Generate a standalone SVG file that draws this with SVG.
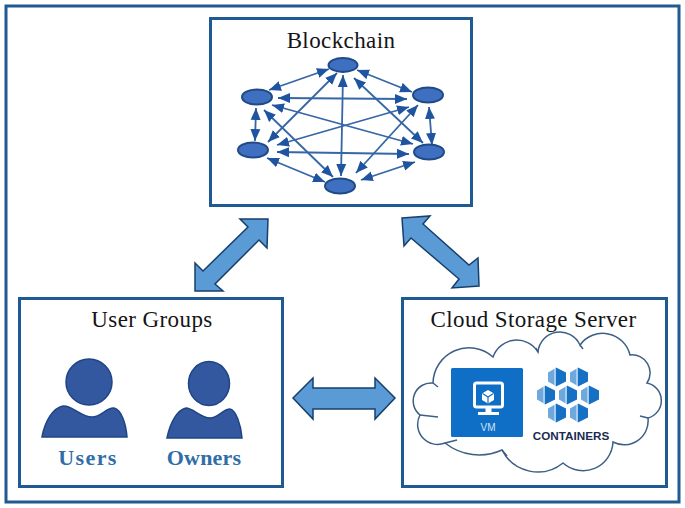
<svg xmlns="http://www.w3.org/2000/svg" xmlns:xlink="http://www.w3.org/1999/xlink" width="685" height="508" viewBox="0 0 685 508">
<style>
.box{fill:#fff;stroke:#1f5a93;stroke-width:3}
.title{font-family:"Liberation Serif","Times New Roman",serif;font-size:23px;fill:#141414;text-anchor:middle;letter-spacing:.4px}
.role{font-family:"Liberation Serif","Times New Roman",serif;font-size:22px;font-weight:bold;fill:#2f6ea8;text-anchor:middle}
.peer{fill:#3f6fc0;stroke:#1f4a86;stroke-width:2}
.link{stroke:#3566a6;stroke-width:1.800;fill:none;marker-start:url(#tip);marker-end:url(#tip)}
.big{fill:#5b9bd5;stroke:#163f6e;stroke-width:1.500;stroke-linejoin:miter}
.person{fill:#34589f;stroke:#1e4585;stroke-width:1.500}
</style>
<defs>
<marker id="tip" markerUnits="userSpaceOnUse" markerWidth="13" markerHeight="11" refX="12" refY="5.500" orient="auto-start-reverse">
<path d="M0 0.500L12 5.500L0 10.500z" fill="#1f55a0"/>
</marker>
<g id="hex">
<path d="M-9-4.500L-3-8V8L-9 4.500z" fill="#6fa8dc"/>
<path d="M-3-8L-1-9.500V9.500L-3 8z" fill="#a9cdee"/>
<path d="M-1-9.500L9-4.500V4.500L-1 9.500z" fill="#1670c4"/>
</g>
</defs>
<rect width="685" height="508" fill="#fff"/>
<rect x="6" y="6" width="673" height="496" fill="#fff" stroke="#1f5a93" stroke-width="3"/>

<g id="blockchain">
<rect class="box" x="210.500" y="18.500" width="261" height="187"/>
<text class="title" x="341" y="48">Blockchain</text>
<g id="peers-links">
<line class="link" x1="329" y1="69" x2="269" y2="90"/>
<line class="link" x1="357" y1="70" x2="412" y2="92"/>
<line class="link" x1="337" y1="73" x2="268" y2="142"/>
<line class="link" x1="354" y1="78" x2="423" y2="143"/>
<line class="link" x1="343" y1="75" x2="341" y2="176"/>
<line class="link" x1="278" y1="98" x2="407" y2="99"/>
<line class="link" x1="256" y1="108" x2="255" y2="141"/>
<line class="link" x1="272" y1="105" x2="413" y2="144"/>
<line class="link" x1="264" y1="110" x2="333" y2="177"/>
<line class="link" x1="409" y1="107" x2="277" y2="145"/>
<line class="link" x1="429" y1="107" x2="432" y2="145"/>
<line class="link" x1="418" y1="105" x2="356" y2="173"/>
<line class="link" x1="277" y1="152" x2="409" y2="154"/>
<line class="link" x1="267" y1="158" x2="325" y2="182"/>
<line class="link" x1="415" y1="162" x2="361" y2="180"/>
</g>
<ellipse class="peer" cx="343" cy="65" rx="14.500" ry="7"/>
<ellipse class="peer" cx="257" cy="97" rx="15" ry="7.500"/>
<ellipse class="peer" cx="428" cy="95" rx="15" ry="7.500"/>
<ellipse class="peer" cx="253" cy="150" rx="15" ry="7.500"/>
<ellipse class="peer" cx="429" cy="152" rx="15" ry="7.500"/>
<ellipse class="peer" cx="340" cy="186" rx="15" ry="7.500"/>
</g>

<g id="user-groups">
<rect class="box" x="19.500" y="298.500" width="263" height="188"/>
<text class="title" x="152" y="327">User Groups</text>
<g id="users">
<circle class="person" cx="89" cy="382" r="23"/>
<path class="person" d="M42 437C45 421 53 408 63 406C72 405 81 417 92 417C101 417 107 407 114 408C122 410 126 425 127 437z"/>
<text class="role" x="88" y="465" letter-spacing="1.400">Users</text>
</g>
<g id="owners">
<ellipse class="person" cx="209" cy="383.500" rx="20.500" ry="22"/>
<path class="person" d="M167 438C170 423 177 410 186 408C193 408 201 418 210 418C218 418 223 409 230 409C236 410 241 425 242 438z"/>
<text class="role" x="204" y="465" letter-spacing=".2">Owners</text>
</g>
</g>

<g id="cloud-storage-server">
<rect class="box" x="402.500" y="298.500" width="264" height="188"/>
<text class="title" x="533.500" y="327">Cloud Storage Server</text>
<path id="cloud" fill="#fff" stroke="#3d5f86" stroke-width="1.500" d="M420 415A18 18 0 0 1 433 383A36 36 0 0 1 493 357A25 25 0 0 1 538 352A22 22 0 0 1 580 345A28 28 0 0 1 630 355A18 18 0 0 1 647 383A18 18 0 0 1 648 418A24 24 0 0 1 613 442A30 30 0 0 1 563 463A40 40 0 0 1 502 450A55 55 0 0 1 445 443A20 20 0 0 1 420 415z"/>
<path fill="none" stroke="#3d5f86" stroke-width="1.500" d="M433 383L438 387M420 415L438 417M445 443L457 440M502 450L507 456M648 418L640 416M538 352L536 348M580 345L583 349"/>
<g id="vm">
<rect x="451" y="368" width="72" height="69" rx="1.500" fill="#0f6ec6"/>
<rect x="474.500" y="383" width="28" height="24" rx="2" fill="#0f6ec6" stroke="#fff" stroke-width="3"/>
<rect x="485.500" y="408" width="6" height="5" fill="#fff"/>
<rect x="478" y="412" width="21" height="3" fill="#fff"/>
<path d="M488 390L494 393.500V400L488 403.500L482 400V393.500z" fill="#fff"/>
<path d="M482.500 393.500L488 397L493.500 393.500M488 397V403" fill="none" stroke="#0f6ec6" stroke-width="1.200"/>
<text x="488" y="431" font-family="'Liberation Sans',Arial,sans-serif" font-size="10px" fill="#cfe3f6" text-anchor="middle">VM</text>
</g>
<g id="containers">
<use xlink:href="#hex" href="#hex" x="557" y="377"/>
<use xlink:href="#hex" href="#hex" x="579" y="377"/>
<use xlink:href="#hex" href="#hex" x="546" y="395"/>
<use xlink:href="#hex" href="#hex" x="568" y="395"/>
<use xlink:href="#hex" href="#hex" x="590" y="395"/>
<use xlink:href="#hex" href="#hex" x="557" y="413"/>
<use xlink:href="#hex" href="#hex" x="579" y="413"/>
<text x="571" y="439.500" font-family="'Liberation Sans',Arial,sans-serif" font-size="11.700px" font-weight="bold" fill="#1b2b52" text-anchor="middle">CONTAINERS</text>
</g>
</g>

<g id="connectors">
<path class="big" d="M268 219L267 248L259 240L215 284L223 291L195 291L195 263L203 271L248 227L240 219z"/>
<path class="big" d="M402 218L430 216L423 224L469 265L478 258L479 286L452 288L459 279L411 238L404 246z"/>
<path class="big" d="M293 398L313 378V388H375V378L395 398L375 419V409H313V419z"/>
</g>
</svg>
